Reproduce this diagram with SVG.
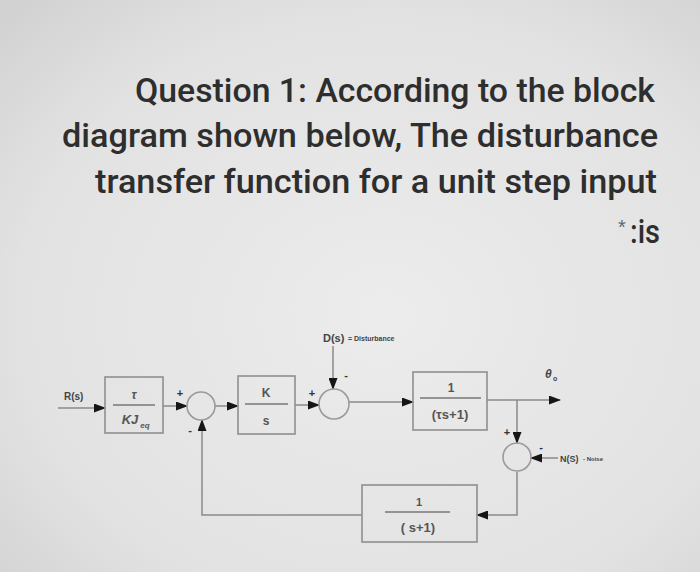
<svg xmlns="http://www.w3.org/2000/svg" width="700" height="572" viewBox="0 0 700 572">
<defs>
<radialGradient id="bg" cx="0.55" cy="0.55" r="0.75">
<stop offset="0" stop-color="#ececec"/>
<stop offset="0.7" stop-color="#e2e2e2"/>
<stop offset="1" stop-color="#d2d2d2"/>
</radialGradient>
<marker id="ah" markerWidth="12" markerHeight="9" refX="11" refY="4.5" orient="auto" markerUnits="userSpaceOnUse">
<path d="M0,0 L12,4.5 L0,9 Z" fill="#151515"/>
</marker>
<style>
.q{font-family:Roboto,"Liberation Sans",sans-serif;font-size:34px;font-weight:500;fill:#2e2e2e}
.box{fill:none;stroke:#8f8f8f;stroke-width:1.6}
.sum{fill:none;stroke:#9a9a9a;stroke-width:1.6}
.ln{fill:none;stroke:#8a8a8a;stroke-width:1.5}
.bar{stroke:#777;stroke-width:1.5}
.t{font-family:"Liberation Sans",Arial,sans-serif;font-weight:bold;fill:#555;text-anchor:middle}
.s{font-family:"Liberation Sans",Arial,sans-serif;font-weight:bold;fill:#333;font-size:11px;text-anchor:middle}
.lbl{font-family:"Liberation Sans",Arial,sans-serif;font-weight:bold;fill:#444}
</style>
</defs>
<rect width="700" height="572" fill="url(#bg)"/>
<g id="question">
<text class="q" x="135" y="102" textLength="520" lengthAdjust="spacingAndGlyphs">Question 1: According to the block</text>
<text class="q" x="62" y="147" textLength="596" lengthAdjust="spacingAndGlyphs">diagram shown below, The disturbance</text>
<text class="q" x="95" y="193" textLength="562" lengthAdjust="spacingAndGlyphs">transfer function for a unit step input</text>
<text x="622" y="234" font-family="Liberation Sans,sans-serif" font-size="20" fill="#666" text-anchor="middle">*</text>
<text class="q" x="630" y="243" textLength="30" lengthAdjust="spacingAndGlyphs">:is</text>
</g>
<g id="connectors">
<line class="ln" x1="58" y1="408" x2="105" y2="408" marker-end="url(#ah)"/>
<line class="ln" x1="163" y1="406" x2="187" y2="406" marker-end="url(#ah)"/>
<line class="ln" x1="215" y1="406" x2="238" y2="406" marker-end="url(#ah)"/>
<line class="ln" x1="295" y1="405" x2="319" y2="405" marker-end="url(#ah)"/>
<line class="ln" x1="333" y1="346" x2="333" y2="389" marker-end="url(#ah)"/>
<line class="ln" x1="349" y1="402" x2="413" y2="402" marker-end="url(#ah)"/>
<line class="ln" x1="487" y1="400" x2="560" y2="400" marker-end="url(#ah)"/>
<line class="ln" x1="517" y1="400" x2="517" y2="443" marker-end="url(#ah)"/>
<line class="ln" x1="558" y1="458" x2="531" y2="458" marker-end="url(#ah)"/>
<polyline class="ln" points="517,472 517,515 477,515" marker-end="url(#ah)"/>
<polyline class="ln" points="362,515 202,515 202,420" marker-end="url(#ah)"/>
</g>
<g id="R">
<text class="lbl" x="64" y="400" font-size="10">R(s)</text>
</g>
<g id="block1">
<rect class="box" x="105" y="377" width="58" height="56"/>
<text class="t" x="134" y="399" font-size="12" font-style="italic">τ</text>
<line class="bar" x1="113" y1="405" x2="155" y2="405"/>
<text class="t" x="130" y="424" font-size="13" font-style="italic">KJ</text>
<text class="t" x="145" y="428" font-size="8" font-style="italic">eq</text>
</g>
<g id="sum1">
<circle class="sum" cx="201" cy="406" r="14"/>
<text class="s" x="180" y="397">+</text>
<text class="s" x="190" y="434">-</text>
</g>
<g id="block2">
<rect class="box" x="238" y="376" width="57" height="58"/>
<text class="t" x="266" y="397" font-size="12">K</text>
<line class="bar" x1="245" y1="404" x2="288" y2="404"/>
<text class="t" x="266" y="425" font-size="12">s</text>
</g>
<g id="sum2">
<circle class="sum" cx="334" cy="404" r="15"/>
<text class="s" x="312" y="397">+</text>
<text class="s" x="346" y="379">-</text>
<text class="lbl" x="323" y="342" font-size="11">D(s)</text>
<text class="lbl" x="348" y="341" font-size="7" fill="#777">= Disturbance</text>
</g>
<g id="block3">
<rect class="box" x="413" y="372" width="74" height="58"/>
<text class="t" x="451" y="392" font-size="12">1</text>
<line class="bar" x1="420" y1="398" x2="481" y2="398"/>
<text class="t" x="450" y="419" font-size="13">(τs+1)</text>
<text class="lbl" x="545" y="378" font-size="12" font-style="italic">θ</text>
<text class="lbl" x="553" y="381" font-size="7">o</text>
</g>
<g id="sum3">
<circle class="sum" cx="517" cy="457" r="14"/>
<text class="s" x="507" y="436">+</text>
<text class="s" x="541" y="451">-</text>
<text class="lbl" x="560" y="462" font-size="9">N(S)</text>
<text class="lbl" x="583" y="461" font-size="6" fill="#777">- Noise</text>
</g>
<g id="block4">
<rect class="box" x="362" y="485" width="115" height="57"/>
<text class="t" x="419" y="506" font-size="11">1</text>
<line class="bar" x1="385" y1="512" x2="450" y2="512"/>
<text class="t" x="418" y="532" font-size="13">( s+1)</text>
</g>
</svg>
